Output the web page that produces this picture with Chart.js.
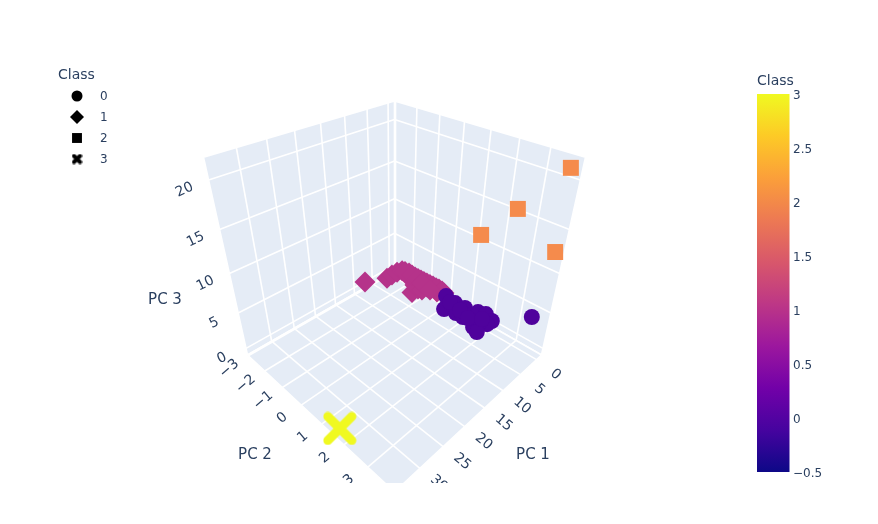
<!DOCTYPE html>
<html>
<head>
<meta charset="utf-8">
<style>
  html, body { margin: 0; padding: 0; background: #fff; }
  canvas { display: block; }
</style>
<script src="https://cdn.jsdelivr.net/npm/chart.js@4/dist/chart.umd.js"></script>
</head>
<body>
<canvas id="chart" width="878" height="524"></canvas>
<script>
// class 0
const pc1Class0 = [-0.06, 3.28, 0.4, 2.6, 0.23, 0.96, -0.55, -1.12, -0.28, 1.05, 1.49, 3.49, 4.08, 2.59, 1.53, 0.84, 1.39, 2.16, 0.56]
const pc2Class0 = [0, 0.45, 0.51, 0.9, 0.95, 1.38, 1.43, 1.7, 2.08, 2.06, 1.82, 1.81, 2.06, 1.22, 3.7, 0.34, 0.9, 1.38, 1.77]
const pc3Class0 = [0.6, 0.6, 0.6, 0.6, 0.6, 0.6, 0.6, 0.6, 0.6, 0.6, 0.6, 0.6, 0.6, 0.6, 5, 0.6, 0.6, 0.6, 0.6]

// class 1
const pc1Class1 = [8.01, 3.89, 2.41, 0.91, -0.23, -0.61, -0.45, -0.54, -0.63, -0.73, -0.82, -0.52, 3.82, 2.13, 0.38, 0.21, 0.32, 1.58, 1.82, -0.41, -0.52, -0.49, -0.58, -0.68, -0.77, -0.74, 0.08, 0.7]
const pc2Class1 = [-2.83, -2.41, -2.42, -2.42, -2.35, -2.03, -1.67, -1.37, -1.07, -0.77, -0.48, -0.18, -1.06, -1.05, -0.89, -0.41, -1.92, -1.31, -0.9, -2.22, -1.85, -1.52, -1.22, -0.92, -0.62, -0.31, -1.2, -0.68]
const pc3Class1 = [0.6, 0.6, 0.6, 0.6, 0.6, 0.6, 0.6, 0.6, 0.6, 0.6, 0.6, 0.6, 0.6, 0.6, 0.6, 0.6, 0.6, 0.6, 0.6, 0.6, 0.6, 0.6, 0.6, 0.6, 0.6, 0.6, 0.6, 0.6]

// class 2
const pc1Class2 = [-0.87, 0.56, 1.0, 2.1]
const pc2Class2 = [3.75, 3.93, 2.57, 1.54]
const pc3Class2 = [21, 13, 16, 12]

// class 3
const pc1Class3 = [34.3]
const pc2Class3 = [1.69]
const pc3Class3 = [0]

const classNames = ['0', '1', '2', '3']
const classColors = ['#4f029c', '#b5338a', '#f58b4c', '#f0f921']

const pc1Ticks = [0, 5, 10, 15, 20, 25, 30]
const pc2Ticks = [-3, -2, -1, 0, 1, 2, 3]
const pc3Ticks = [0, 5, 10, 15, 20]

const colorbarTicks = [3, 2.5, 2, 1.5, 1, 0.5, 0, -0.5]
const colorbarLabels = ['3', '2.5', '2', '1.5', '1', '0.5', '0', '\u22120.5']
const plasma = ['#0d0887', '#46039f', '#7201a8', '#9c179e', '#bd3786', '#d8576b', '#ed7953', '#fb9f3a', '#fdca26', '#f0f921']

// axis ranges of the 3d box
const pc1Range = [-1.6, 35]
const pc2Range = [-3.05, 4.02]
const pc3Range = [-1, 22.1]

const FONT = '"DejaVu Sans", Verdana, sans-serif'
const TEXT = '#2a3f5f'
const CLIP_Y = 483

// perspective camera, fitted to the corners of the box
function project(pc1, pc2, pc3) {
  const u = (pc1 - pc1Range[0]) / (pc1Range[1] - pc1Range[0])
  const v = (pc2 - pc2Range[0]) / (pc2Range[1] - pc2Range[0])
  const t = (pc3 - pc3Range[0]) / (pc3Range[1] - pc3Range[0])
  const w = 1 - 0.19343 * (u + v) - 0.1858 * t
  return {
    x: 394.5 + 118.566 * (v - u) / w,
    y: (271 + 15.332 * (u + v) - 188.77 * t) / w
  }
}

function zip3(a, b, c) {
  return a.map((value, i) => project(value, b[i], c[i]))
}

function segment(data) {
  return { type: 'line', data, borderColor: '#fff', borderWidth: 1.6, pointRadius: 0, fill: false, order: 50 }
}

function wall(corners) {
  return {
    type: 'line',
    data: corners.concat([corners[0]]),
    borderColor: '#fff',
    borderWidth: 1.6,
    backgroundColor: '#e5ecf6',
    pointRadius: 0,
    fill: 'shape',
    order: 100
  }
}

// x marker with round line ends
function crossMarker(color, size, lineWidth) {
  const c = document.createElement('canvas')
  c.width = size
  c.height = size
  const g = c.getContext('2d')
  const m = lineWidth / 2 + 0.5
  g.strokeStyle = color
  g.lineWidth = lineWidth
  g.lineCap = 'round'
  g.beginPath()
  g.moveTo(m, m)
  g.lineTo(size - m, size - m)
  g.moveTo(size - m, m)
  g.lineTo(m, size - m)
  g.stroke()
  return c
}

const xMin = pc1Range[0], xMax = pc1Range[1]
const yMin = pc2Range[0], yMax = pc2Range[1]
const zMin = pc3Range[0], zMax = pc3Range[1]

const boxDatasets = [
  wall([project(xMin, yMin, zMin), project(xMax, yMin, zMin), project(xMax, yMax, zMin), project(xMin, yMax, zMin)]),
  wall([project(xMin, yMin, zMin), project(xMax, yMin, zMin), project(xMax, yMin, zMax), project(xMin, yMin, zMax)]),
  wall([project(xMin, yMin, zMin), project(xMin, yMax, zMin), project(xMin, yMax, zMax), project(xMin, yMin, zMax)])
]

pc1Ticks.forEach(tick => {
  boxDatasets.push(segment([project(tick, yMin, zMin), project(tick, yMax, zMin)]))
  boxDatasets.push(segment([project(tick, yMin, zMin), project(tick, yMin, zMax)]))
})
pc2Ticks.forEach(tick => {
  boxDatasets.push(segment([project(xMin, tick, zMin), project(xMax, tick, zMin)]))
  boxDatasets.push(segment([project(xMin, tick, zMin), project(xMin, tick, zMax)]))
})
pc3Ticks.forEach(tick => {
  boxDatasets.push(segment([project(xMin, yMin, tick), project(xMax, yMin, tick)]))
  boxDatasets.push(segment([project(xMin, yMin, tick), project(xMin, yMax, tick)]))
})

function drawTilted(ctx, text, x, y, angle) {
  ctx.save()
  ctx.translate(x, y)
  ctx.rotate(angle)
  ctx.fillText(text, 0, 0)
  ctx.restore()
}

// axis labels, legend and colorbar are not part of chart.js scales here
const annotations = {
  id: 'annotations',
  afterDraw(chart) {
    const ctx = chart.ctx
    ctx.save()
    ctx.fillStyle = TEXT
    ctx.textAlign = 'center'
    ctx.textBaseline = 'middle'

    // tick labels, cut at the bottom of the scene like the box
    ctx.save()
    ctx.beginPath()
    ctx.rect(0, 0, 878, CLIP_Y)
    ctx.clip()
    ctx.font = '14px ' + FONT
    pc1Ticks.forEach(tick => {
      const p = project(tick, yMax, zMin)
      drawTilted(ctx, String(tick), p.x + 19, p.y + 15, 0.7)
    })
    pc2Ticks.forEach(tick => {
      const p = project(xMax, tick, zMin)
      drawTilted(ctx, String(tick).replace('-', '\u2212'), p.x - 19, p.y + 13, -0.7)
    })
    pc3Ticks.forEach(tick => {
      const p = project(xMax, yMin, tick)
      drawTilted(ctx, String(tick), p.x - 24, p.y + 10, -0.45)
    })
    ctx.restore()

    ctx.font = '15px ' + FONT
    ctx.fillText('PC 1', 533, 455)
    ctx.fillText('PC 2', 255, 455)
    ctx.fillText('PC 3', 165, 300)

    // legend
    ctx.textAlign = 'left'
    ctx.font = '14px ' + FONT
    ctx.fillText('Class', 58, 75)
    ctx.font = '12px ' + FONT
    const legendStyles = ['circle', 'rectRot', 'rect', crossMarker('#000', 11, 4)]
    const legendRadius = [5.5, 7, 7, 6]
    classNames.forEach((name, i) => {
      const y = 96 + i * 21
      ctx.fillStyle = '#000'
      Chart.helpers.drawPoint(ctx, { pointStyle: legendStyles[i], radius: legendRadius[i], borderWidth: 0, rotation: 0 }, 77, y)
      ctx.fillStyle = TEXT
      ctx.fillText(name, 100, y + 1)
    })

    // colorbar
    const top = 94, bottom = 472
    const gradient = ctx.createLinearGradient(0, bottom, 0, top)
    plasma.forEach((color, i) => gradient.addColorStop(i / (plasma.length - 1), color))
    ctx.fillStyle = gradient
    ctx.fillRect(757, top, 32.5, bottom - top)
    ctx.fillStyle = TEXT
    ctx.font = '14px ' + FONT
    ctx.fillText('Class', 757, 81)
    ctx.font = '12px ' + FONT
    colorbarTicks.forEach((tick, i) => {
      const y = top + (3 - tick) / 3.5 * (bottom - top)
      ctx.fillText(colorbarLabels[i], 793, y + 1.5)
    })
    ctx.restore()
  }
}

new Chart(document.getElementById('chart'), {
  type: 'scatter',
  data: {
    datasets: boxDatasets.concat([
      { label: '1', data: zip3(pc1Class1, pc2Class1, pc3Class1), backgroundColor: classColors[1], pointStyle: 'rectRot', pointRadius: 10.5, pointBorderWidth: 0, order: 4 },
      { label: '0', data: zip3(pc1Class0, pc2Class0, pc3Class0), backgroundColor: classColors[0], pointStyle: 'circle', pointRadius: 8, pointBorderWidth: 0, order: 3 },
      { label: '2', data: zip3(pc1Class2, pc2Class2, pc3Class2), backgroundColor: classColors[2], pointStyle: 'rect', pointRadius: 11.3, pointBorderWidth: 0, order: 2 },
      { label: '3', data: zip3(pc1Class3, pc2Class3, pc3Class3), pointStyle: crossMarker(classColors[3], 34, 9), pointRadius: 17, pointBorderWidth: 0, order: 1 }
    ])
  },
  options: {
    responsive: false,
    animation: false,
    layout: { autoPadding: false, padding: { left: 0, top: 0, right: 0, bottom: 524 - CLIP_Y } },
    plugins: { legend: { display: false }, tooltip: { enabled: false } },
    scales: {
      x: { type: 'linear', display: false, min: 0, max: 878 },
      y: { type: 'linear', display: false, min: 0, max: CLIP_Y, reverse: true }
    }
  },
  plugins: [annotations]
})
</script>
</body>
</html>
